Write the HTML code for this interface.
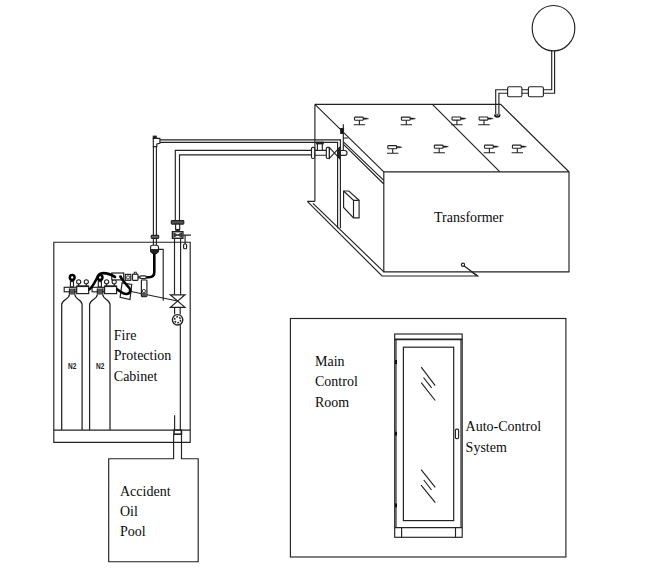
<!DOCTYPE html>
<html><head><meta charset="utf-8">
<style>
html,body{margin:0;padding:0;background:#fff;}
body{width:671px;height:579px;overflow:hidden;position:relative;}
svg{position:absolute;left:0;top:0;}
text{font-family:"Liberation Serif",serif;font-size:14px;fill:#0a0a0a;}
.n2{font-family:"Liberation Sans",sans-serif;font-size:9px;font-weight:bold;fill:#222;}
</style></head><body>
<svg width="671" height="579" viewBox="0 0 671 579">
<g fill="none" stroke="#222" stroke-width="1.15">
<!-- ===== gauge top right ===== -->
<ellipse cx="553.5" cy="28.2" rx="21.3" ry="22.7"/>
<path d="M551.7,50.8 V89.7 H495.7 V114.5"/>
<path d="M554.6,50.8 V93.2 H498.9 V114.5"/>
<rect x="507.6" y="86.7" width="14.3" height="10.1" rx="1.5" fill="#fff"/>
<rect x="528.4" y="86.7" width="15" height="10.1" rx="1.5" fill="#fff"/>
<path d="M494.8,114.5 A2.5,2.5 0 0 0 499.8,114.5" stroke="#111" stroke-width="1.6"/><circle cx="497.3" cy="115" r="1.2" fill="#555" stroke="none"/>

<!-- ===== transformer ===== -->
<path d="M314.9,104.4 H500.7 L569,171.8 V271.8 H383.8 V171.8 H569"/>
<path d="M314.9,104.4 L383.8,171.8"/>
<path d="M432.4,104.4 L499.9,171.8"/>
<path d="M314.9,104.4 V201.5"/>
<!-- ledge -->
<path d="M343.5,141.9 L383.8,180.3 M343.5,144.3 L383.8,184"/>
<path d="M343.3,124.3 V151.8 M343.5,138 H348.3"/>
<path d="M340.7,128.5 h2.8 v4.8 h-2.8z" fill="#111"/>
<!-- base plate -->
<path d="M307.3,201.3 H314.9 M307.3,201.3 L382,276 H477.6 L471.5,271.8"/>
<path d="M313,203.4 L383.8,271.8"/>
<!-- side box -->
<path d="M343.6,191 H348.8 L359.1,200.3 V217.9 H353.5 L343.6,207.5 Z" fill="#fff"/>
<path d="M343.6,191 L353.5,200.3 V217.9 M353.5,200.3 H359.1"/>
<!-- drain -->
<path d="M463.5,265.5 L477.6,276" stroke-width="1.3"/>
<circle cx="463" cy="264.8" r="1.6" fill="#fff" stroke-width="1.2"/>

<!-- sensors -->
<g id="sensors" stroke-width="1.1">
<g transform="translate(353.7,124.8)"><rect x="0.8" y="-7.7" width="8.8" height="3.1" rx="0.8"/><path d="M9.6,-6.8 H12.3 L14.9,-6.1 L12.3,-5.5 H9.6 Z" fill="#111" stroke-width="0.5"/><path d="M5.7,-4.6 V0 M0,0 H11.4" /></g>
<g transform="translate(400.6,124.8)"><rect x="0.8" y="-7.7" width="8.8" height="3.1" rx="0.8"/><path d="M9.6,-6.8 H12.3 L14.9,-6.1 L12.3,-5.5 H9.6 Z" fill="#111" stroke-width="0.5"/><path d="M5.7,-4.6 V0 M0,0 H11.4" /></g>
<g transform="translate(451.2,124.7)"><rect x="0.8" y="-7.7" width="8.8" height="3.1" rx="0.8"/><path d="M9.6,-6.8 H12.3 L14.9,-6.1 L12.3,-5.5 H9.6 Z" fill="#111" stroke-width="0.5"/><path d="M5.7,-4.6 V0 M0,0 H11.4" /></g>
<g transform="translate(478.3,124.7)"><rect x="0.8" y="-7.7" width="8.8" height="3.1" rx="0.8"/><path d="M9.6,-6.8 H12.3 L14.9,-6.1 L12.3,-5.5 H9.6 Z" fill="#111" stroke-width="0.5"/><path d="M5.7,-4.6 V0 M0,0 H11.4" /></g>
<g transform="translate(387,153.3)"><rect x="0.8" y="-7.7" width="8.8" height="3.1" rx="0.8"/><path d="M9.6,-6.8 H12.3 L14.9,-6.1 L12.3,-5.5 H9.6 Z" fill="#111" stroke-width="0.5"/><path d="M5.7,-4.6 V0 M0,0 H11.4" /></g>
<g transform="translate(433.5,152.8)"><rect x="0.8" y="-7.7" width="8.8" height="3.1" rx="0.8"/><path d="M9.6,-6.8 H12.3 L14.9,-6.1 L12.3,-5.5 H9.6 Z" fill="#111" stroke-width="0.5"/><path d="M5.7,-4.6 V0 M0,0 H11.4" /></g>
<g transform="translate(483.7,152.8)"><rect x="0.8" y="-7.7" width="8.8" height="3.1" rx="0.8"/><path d="M9.6,-6.8 H12.3 L14.9,-6.1 L12.3,-5.5 H9.6 Z" fill="#111" stroke-width="0.5"/><path d="M5.7,-4.6 V0 M0,0 H11.4" /></g>
<g transform="translate(511.6,152.8)"><rect x="0.8" y="-7.7" width="8.8" height="3.1" rx="0.8"/><path d="M9.6,-6.8 H12.3 L14.9,-6.1 L12.3,-5.5 H9.6 Z" fill="#111" stroke-width="0.5"/><path d="M5.7,-4.6 V0 M0,0 H11.4" /></g>
</g>

<!-- ===== thick pipe ===== -->
<path d="M175.3,220.6 V150.4 H311.5"/>
<path d="M179.5,220.6 V154.8 H311.5"/>
<path d="M314.7,150.4 H326.3 M314.7,155.2 H326.3"/>
<rect x="311.5" y="147.4" width="3.2" height="11.1" rx="1.2" fill="#fff"/>
<rect x="317.4" y="143.2" width="4.9" height="7.2" fill="#fff"/>
<rect x="316.6" y="142.2" width="6.6" height="1.6" fill="#111"/>
<rect x="326.3" y="147.4" width="3.1" height="11.1" rx="1.2" fill="#fff"/>
<path d="M329.4,147.6 L339.4,158.3 V147.6 L329.4,158.3 Z" fill="#fff"/>
<path d="M338.6,147.8 V158.1" stroke-width="1.3"/>
<path d="M340.4,150.5 H344.6 A2.45,2.45 0 0 1 344.6,155.4 H340.4 Z" fill="#fff"/>

<!-- ===== thin pipe ===== -->
<path d="M159.9,139.8 H340.4 V228.3"/>
<path d="M159.9,142.4 H337.6 V228.3"/>
<path d="M153.4,146.6 V235.3 M156.4,146.6 V235.3"/>
<path d="M153.3,138.4 H159.9 V143.3 L156.8,144 V146.6 H153.3 Z" fill="#fff"/>
<rect x="153.3" y="136.2" width="2.9" height="2.2" fill="#111"/>
<rect x="151.2" y="235.3" width="7.5" height="3" rx="0.8" fill="#666"/>
<path d="M153.4,238.3 V245.2 M156.4,238.3 V245.2"/>
<path d="M150.6,249.8 V247.2 Q150.6,245.2 152.6,245.2 H156.5 Q158.5,245.2 158.5,247.2 V249.8 Z" fill="#fff"/>
<path d="M150.6,249.8 H158.5 V251.5 L156.5,253.4 H152.6 L150.6,251.5 Z" fill="#222"/>
<path d="M158.5,249.3 H163.2 V300.8"/>

<!-- thick vertical pipe in cabinet -->
<rect x="171.3" y="220.6" width="12.5" height="3.5" rx="0.8" fill="#555"/>
<rect x="175.6" y="224.1" width="4.1" height="5.6" fill="#fff"/>
<rect x="176.2" y="229.5" width="2.9" height="2.2" fill="#333"/>
<rect x="172.4" y="231.7" width="10.5" height="6.6" fill="#fff" stroke-width="1.4"/>
<path d="M173.8,232.8 L181.5,237.2 V232.8 L173.8,237.2 Z" fill="#444" stroke-width="0.8"/>
<path d="M174.5,238.3 V294.7 M180.6,238.3 V294.7"/>
<path d="M182.9,235.1 H190.9 M185.1,235.1 V244"/>
<rect x="183.6" y="244" width="3" height="4.7" rx="1" fill="#fff"/>
<!-- valve -->
<path d="M170.3,294.8 H185 L170.3,307.3 H185 Z" fill="#fff"/>
<path d="M174.6,307.3 V314.6 M180.2,307.3 V314.6"/>
<circle cx="177.6" cy="319.8" r="5.2" fill="#fff" stroke-width="1.4"/>
<circle cx="177.6" cy="319.8" r="3" stroke-dasharray="1.8 1.3" stroke-width="1.5"/>
<path d="M180.3,325 V430.1"/>
<path d="M174.6,415.2 V430"/>
<path d="M131,291.5 L177.6,301"/>

<!-- ===== cabinet ===== -->
<path d="M53.8,242.2 H190.2 V442.3 H53.8 Z"/>
<path d="M53.8,430.1 H190.2"/>
<rect x="174" y="430.1" width="7.4" height="4.1" fill="#fff" stroke-width="1.6"/>
<path d="M173.6,434.2 V458.7 H108.7 V561.7 H198.2 V458.7 H181.5 V434.2"/>

<!-- ===== control room ===== -->
<rect x="290.4" y="318.5" width="275.5" height="238.5"/>
<rect x="394.7" y="334" width="67.5" height="203.3"/>
<path d="M394.7,339.4 H462.2" stroke-width="1.6"/>
<path d="M396,339.4 V527.6 M461,339.4 V527.6"/>
<path d="M394.7,527.6 H462.2 M401.6,527.6 V537.3 M455.5,527.6 V537.3"/>
<rect x="403.4" y="347.2" width="50.3" height="173.4" stroke-width="1.2"/>
<path d="M421.2,367.1 L435.2,385.6 M423.5,377.5 L431.6,387.9 M421.2,382.6 L435.2,400.5"/>
<path d="M421.1,469.7 L435.3,487.4 M423.8,480 L431.5,490 M421.1,485.1 L435.3,502.6"/>
<rect x="455.4" y="429.1" width="3.2" height="9.5" rx="1.2" fill="#fff"/>
<rect x="395" y="360" width="2" height="4" fill="#111" stroke="none"/>
<rect x="395" y="431.8" width="2" height="3.8" fill="#111" stroke="none"/>
<rect x="395" y="503.5" width="2" height="3.8" fill="#111" stroke="none"/>
<g transform="translate(0,0)">
<path d="M61.7,430.1 V304.6 C61.7,299.5 69.4,299.5 69.4,294.6 M82.1,430.1 V304.6 C82.1,299.5 74.9,299.5 74.9,294.6" stroke-width="1.25"/>
<rect x="64.2" y="287.3" width="12.1" height="4.5" fill="#fff"/>
<rect x="69.4" y="288.5" width="5.5" height="6.1" fill="#555" stroke="none"/>
<path d="M69.4,288.5 V294.6 M74.9,288.5 V294.6"/>
<rect x="70.4" y="281.6" width="3.1" height="5.2" fill="#fff"/>
<circle cx="72.2" cy="277.4" r="2.4" fill="#fff" stroke="#000" stroke-width="2.4"/>
<path d="M78.7,284 V286.1 M86.3,284 V286.1"/>
<circle cx="78.7" cy="281.8" r="2.1" fill="#fff" stroke-width="1.1"/>
<circle cx="86.3" cy="281.8" r="2.1" fill="#fff" stroke-width="1.1"/>
<rect x="76.7" y="286.1" width="12" height="7.5" fill="#fff" stroke-width="1.2"/>
<path d="M76.7,286.3 H88.7" stroke-width="1.6"/>
</g>
<g transform="translate(27.9,0)">
<path d="M61.7,430.1 V304.6 C61.7,299.5 69.4,299.5 69.4,294.6 M82.1,430.1 V304.6 C82.1,299.5 74.9,299.5 74.9,294.6" stroke-width="1.25"/>
<rect x="64.2" y="287.3" width="12.1" height="4.5" fill="#fff"/>
<rect x="69.4" y="288.5" width="5.5" height="6.1" fill="#555" stroke="none"/>
<path d="M69.4,288.5 V294.6 M74.9,288.5 V294.6"/>
<rect x="70.4" y="281.6" width="3.1" height="5.2" fill="#fff"/>
<circle cx="72.2" cy="277.4" r="2.4" fill="#fff" stroke="#000" stroke-width="2.4"/>
<path d="M78.7,284 V286.1 M86.3,284 V286.1"/>
<circle cx="78.7" cy="281.8" r="2.1" fill="#fff" stroke-width="1.1"/>
<circle cx="86.3" cy="281.8" r="2.1" fill="#fff" stroke-width="1.1"/>
<rect x="76.7" y="286.1" width="12" height="7.5" fill="#fff" stroke-width="1.2"/>
<path d="M76.7,286.3 H88.7" stroke-width="1.6"/>
</g>

<!-- hoses -->
<rect x="111.8" y="273" width="11.9" height="6.9" fill="#fff" stroke-width="1.2"/>
<path d="M88.4,289.8 C91.5,288.5 94,284 96.5,279 C98.5,275 99.5,273.3 102,273.2 C106,273 110.5,274 114.8,276.9" stroke-width="2.6" stroke="#000"/>
<circle cx="115" cy="277" r="1.3" fill="#000" stroke="none"/>
<path d="M122.1,282.8 L131.7,284.5 L130,299.5 L120.1,297.3 Z" fill="#fff" stroke-width="1.2"/>
<path d="M120.6,276.8 C122,280 126,284 129,287.5 C131.5,290.5 130,293.8 126.5,294 C123,294.2 120.5,291.5 116.4,288.8" stroke-width="2.6" stroke="#000"/>
<circle cx="120.5" cy="276.6" r="1.4" fill="#000" stroke="none"/>
<rect x="125.3" y="274.4" width="5.5" height="5.9" fill="#fff" stroke-width="1.2"/>
<circle cx="128" cy="277.4" r="1.6" stroke-width="0.9"/>
<rect x="132.5" y="274.1" width="5.5" height="6.2" rx="0.8" fill="#fff" stroke-width="1.2"/>
<rect x="134.2" y="272.2" width="2.1" height="1.9" fill="#fff" stroke-width="0.9"/>
<path d="M138,277.2 H140" stroke-width="2"/>
<rect x="139.8" y="275.8" width="6.5" height="2.8" rx="1.4" fill="#fff"/>
<path d="M154.3,253.4 V272 C154.3,275.5 152.5,277.2 149,277.2 H146.3" stroke-width="2.6" stroke="#000"/>
<rect x="141.4" y="280" width="5.5" height="16.6" rx="0.8" fill="#fff" stroke-width="1.2"/>
<circle cx="143.9" cy="291" r="1.6" stroke-width="0.9"/>
<rect x="141.9" y="292.6" width="4.5" height="3.6" fill="#555" stroke="none"/>

<!-- texts -->
</g>
<text x="113.8" y="340">Fire</text>
<text x="113.8" y="360">Protection</text>
<text x="113.8" y="381">Cabinet</text>
<text x="120" y="495.7">Accident</text>
<text x="120" y="515.8">Oil</text>
<text x="120" y="536">Pool</text>
<text x="315" y="365.7">Main</text>
<text x="315" y="386.2">Control</text>
<text x="315" y="407">Room</text>
<text x="465.6" y="431.2">Auto-Control</text>
<text x="465.6" y="451.7">System</text>
<text x="434" y="221.8">Transformer</text>
<text class="n2" x="68" y="369" textLength="8.3" lengthAdjust="spacingAndGlyphs">N2</text>
<text class="n2" x="96" y="369" textLength="8.3" lengthAdjust="spacingAndGlyphs">N2</text>

</svg>
</body></html>
